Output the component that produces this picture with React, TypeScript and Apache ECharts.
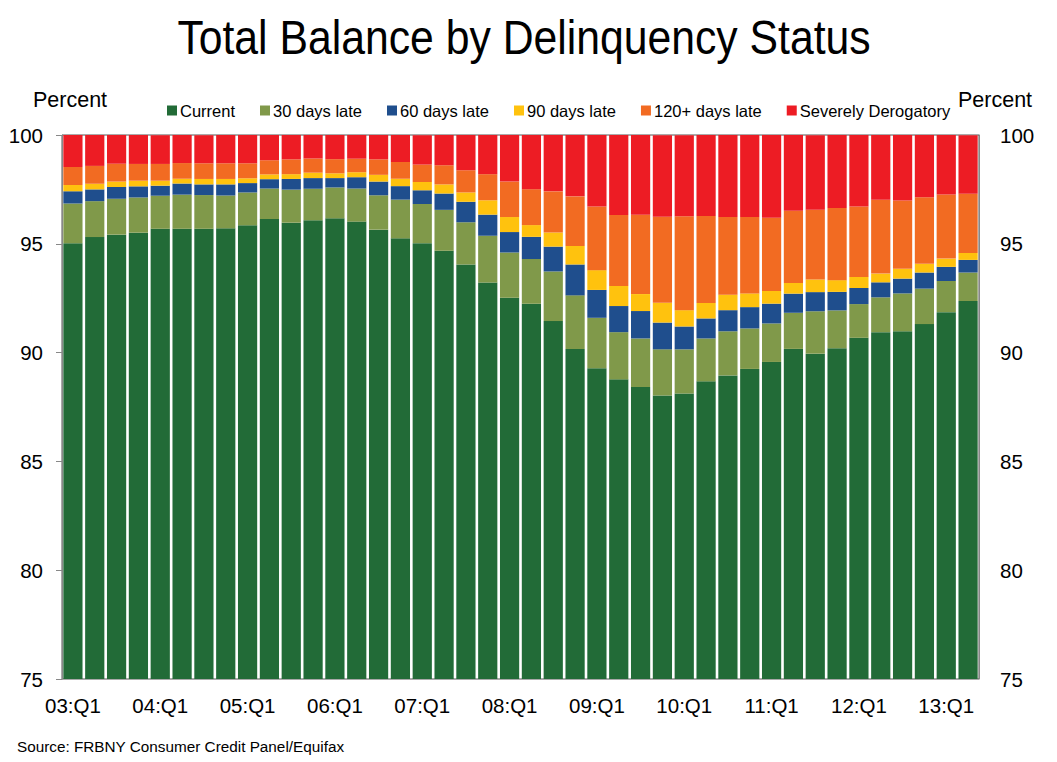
import { useEffect, useRef } from 'react';
import * as echarts from 'echarts';

// 03:Q1 .. 13:Q2
const quarters = [
    '03:Q1', '03:Q2', '03:Q3', '03:Q4', '04:Q1', '04:Q2', '04:Q3', '04:Q4',
    '05:Q1', '05:Q2', '05:Q3', '05:Q4', '06:Q1', '06:Q2', '06:Q3', '06:Q4',
    '07:Q1', '07:Q2', '07:Q3', '07:Q4', '08:Q1', '08:Q2', '08:Q3', '08:Q4',
    '09:Q1', '09:Q2', '09:Q3', '09:Q4', '10:Q1', '10:Q2', '10:Q3', '10:Q4',
    '11:Q1', '11:Q2', '11:Q3', '11:Q4', '12:Q1', '12:Q2', '12:Q3', '12:Q4',
    '13:Q1', '13:Q2'
];

// prettier-ignore
const current = [95.03, 95.31, 95.42, 95.51, 95.69, 95.69, 95.69, 95.71, 95.85, 96.14, 95.97, 96.08, 96.17, 96.02, 95.65, 95.25, 95.03, 94.68, 94.05, 93.22, 92.52, 92.25, 91.45, 90.17, 89.28, 88.77, 88.42, 88.03, 88.12, 88.68, 88.95, 89.25, 89.57, 90.17, 89.95, 90.20, 90.68, 90.94, 90.98, 91.31, 91.86, 92.37];
// prettier-ignore
const late30 = [1.82, 1.65, 1.65, 1.62, 1.52, 1.57, 1.55, 1.51, 1.51, 1.40, 1.52, 1.45, 1.42, 1.52, 1.58, 1.78, 1.80, 1.88, 1.94, 2.15, 2.08, 2.05, 2.28, 2.46, 2.32, 2.17, 2.23, 2.12, 2.03, 1.97, 2.03, 1.86, 1.77, 1.66, 1.95, 1.74, 1.55, 1.60, 1.74, 1.63, 1.43, 1.31];
// prettier-ignore
const late60 = [0.57, 0.54, 0.54, 0.51, 0.46, 0.51, 0.49, 0.51, 0.43, 0.43, 0.49, 0.49, 0.43, 0.52, 0.63, 0.62, 0.63, 0.75, 0.94, 0.97, 0.94, 1.02, 1.14, 1.42, 1.28, 1.20, 1.26, 1.23, 1.05, 0.92, 0.97, 0.98, 0.91, 0.88, 0.88, 0.85, 0.74, 0.69, 0.68, 0.74, 0.65, 0.58];
// prettier-ignore
const late90 = [0.28, 0.26, 0.25, 0.26, 0.23, 0.22, 0.25, 0.25, 0.22, 0.22, 0.22, 0.25, 0.22, 0.23, 0.31, 0.34, 0.38, 0.42, 0.43, 0.66, 0.69, 0.54, 0.65, 0.85, 0.91, 0.92, 0.78, 0.91, 0.75, 0.71, 0.71, 0.63, 0.58, 0.49, 0.58, 0.54, 0.51, 0.40, 0.45, 0.40, 0.38, 0.32];
// prettier-ignore
const late120 = [0.83, 0.82, 0.82, 0.77, 0.77, 0.72, 0.72, 0.72, 0.69, 0.65, 0.68, 0.65, 0.65, 0.62, 0.71, 0.77, 0.80, 0.88, 1.02, 1.20, 1.63, 1.65, 1.89, 2.28, 2.92, 3.26, 3.65, 3.95, 4.32, 4.00, 3.57, 3.51, 3.37, 3.32, 3.20, 3.32, 3.23, 3.40, 3.14, 3.06, 2.94, 2.72];
// prettier-ignore
const severe = [1.48, 1.43, 1.34, 1.34, 1.32, 1.29, 1.29, 1.31, 1.31, 1.17, 1.12, 1.09, 1.12, 1.09, 1.12, 1.25, 1.35, 1.40, 1.63, 1.80, 2.14, 2.51, 2.60, 2.83, 3.29, 3.68, 3.66, 3.75, 3.72, 3.72, 3.77, 3.77, 3.80, 3.48, 3.43, 3.35, 3.29, 2.97, 3.02, 2.86, 2.74, 2.69];

const seriesNames = ['Current', '30 days late', '60 days late', '90 days late', '120+ days late', 'Severely Derogatory'];
const seriesData = [current, late30, late60, late90, late120, severe];
const colors = ['#226B37', '#80994A', '#1F4E8D', '#FFC20E', '#F26B22', '#ED1C24'];

const FONT = '"Liberation Sans", Arial, sans-serif';

const App = () => {
    const chartRef = useRef<HTMLDivElement | null>(null);

    useEffect(() => {
        if (!chartRef.current) return;
        const chart = echarts.init(chartRef.current, null, { renderer: 'svg' });

        const yLabel = { fontSize: 20.5, color: '#000', fontFamily: FONT };

        const option = {
            animation: false,
            backgroundColor: '#fff',
            textStyle: { fontFamily: FONT },
            graphic: [
                {
                    type: 'text',
                    x: 524,
                    y: 38,
                    scaleX: 0.89,
                    style: {
                        text: 'Total Balance by Delinquency Status',
                        fontSize: 48,
                        fontFamily: FONT,
                        fill: '#000',
                        textAlign: 'center',
                        textVerticalAlign: 'middle'
                    }
                },
                {
                    type: 'text',
                    x: 33,
                    y: 100,
                    style: { text: 'Percent', fontSize: 21.5, fontFamily: FONT, fill: '#000', textVerticalAlign: 'middle' }
                },
                {
                    type: 'text',
                    x: 958,
                    y: 100,
                    style: { text: 'Percent', fontSize: 21.5, fontFamily: FONT, fill: '#000', textVerticalAlign: 'middle' }
                },
                {
                    type: 'text',
                    x: 17,
                    y: 746,
                    style: {
                        text: 'Source: FRBNY Consumer Credit Panel/Equifax',
                        fontSize: 15.3,
                        fontFamily: FONT,
                        fill: '#000',
                        textVerticalAlign: 'middle'
                    }
                }
            ],
            legend: {
                data: seriesNames,
                left: 162,
                top: 97,
                icon: 'rect',
                itemWidth: 10,
                itemHeight: 10,
                itemGap: 25,
                selectedMode: false,
                textStyle: { fontSize: 16.5, color: '#000', fontFamily: FONT, padding: [0, 0, 0, -2] }
            },
            grid: {
                left: 62,
                right: 78,
                top: 135,
                bottom: 83,
                show: true,
                borderColor: '#555',
                borderWidth: 1,
                backgroundColor: 'transparent'
            },
            xAxis: {
                type: 'category',
                data: quarters,
                axisLine: { show: false },
                axisTick: { show: false },
                axisLabel: { interval: 3, fontSize: 20.5, color: '#000', margin: 16, fontFamily: FONT }
            },
            yAxis: [
                {
                    type: 'value',
                    min: 75,
                    max: 100,
                    interval: 5,
                    position: 'left',
                    axisLine: { show: true, lineStyle: { color: '#888' } },
                    axisTick: { show: true, length: 6, lineStyle: { color: '#888' } },
                    splitLine: { show: false },
                    axisLabel: { ...yLabel, margin: 19 }
                },
                {
                    type: 'value',
                    min: 75,
                    max: 100,
                    interval: 5,
                    position: 'right',
                    axisLine: { show: true, lineStyle: { color: '#888' } },
                    axisTick: { show: false },
                    splitLine: { show: false },
                    axisLabel: { ...yLabel, margin: 21 }
                }
            ],
            series: seriesNames.map((name, i) => ({
                name,
                type: 'bar',
                stack: 'total',
                yAxisIndex: 0,
                barCategoryGap: '12%',
                clip: true,
                data: seriesData[i],
                itemStyle: { color: colors[i] },
                emphasis: { disabled: true }
            }))
        };

        chart.setOption(option);
        return () => chart.dispose();
    }, []);

    return (
        <div
            ref={chartRef}
            style={{ position: 'fixed', left: 0, top: 0, width: 1057, height: 762, background: '#fff' }}
        />
    );
};

export default App;
